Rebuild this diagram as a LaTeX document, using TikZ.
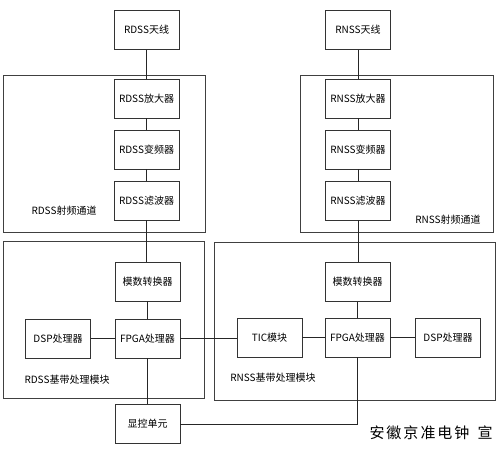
\documentclass[tikz,border=0pt]{standalone}
\usepackage{fontspec}
\setmainfont{Noto Sans CJK SC}
\newfontfamily\wmfont{Noto Sans CJK SC}
\begin{document}
\begin{tikzpicture}[x=1pt,y=-1pt,
  blk/.style={draw=black!80,line width=0.8pt,minimum width=65pt,minimum height=39pt,inner sep=0pt,font=\fontsize{10}{12}\selectfont},
  grp/.style={draw=black!75,line width=0.8pt},
  lbl/.style={font=\fontsize{10}{12}\selectfont,inner sep=0pt},
  wire/.style={draw=black!85,line width=0.8pt}]
\useasboundingbox[fill=white] (0,0) rectangle (498,452);
% group boxes
\draw[grp] (3,75) rectangle (205,232);
\draw[grp] (300,75) rectangle (493,232);
\draw[grp] (3,241) rectangle (204,398);
\draw[grp] (214,242) rectangle (495,400);
% nodes
\node[blk] (rant) at (146.5,30) {RDSS天线};
\node[blk] (ramp) at (146.5,98.5) {RDSS放大器};
\node[blk] (rmix) at (146.5,149.5) {RDSS变频器};
\node[blk] (rflt) at (146.5,200.5) {RDSS滤波器};
\node[blk] (nant) at (358,30) {RNSS天线};
\node[blk] (namp) at (358,98.5) {RNSS放大器};
\node[blk] (nmix) at (358,149.5) {RNSS变频器};
\node[blk] (nflt) at (358,200.5) {RNSS滤波器};
\node[blk] (radc) at (147.5,281.5) {模数转换器};
\node[blk] (rfpga) at (147.5,338.5) {FPGA处理器};
\node[blk] (rdsp) at (58,338.5) {DSP处理器};
\node[blk] (nadc) at (357.5,282) {模数转换器};
\node[blk] (nfpga) at (357.5,337.5) {FPGA处理器};
\node[blk] (tic) at (269.5,337.5) {TIC模块};
\node[blk] (ndsp) at (448,337.5) {DSP处理器};
\node[blk] (disp) at (147.5,424) {显控单元};
% labels
\node[lbl] (l1) at (64,211) {RDSS射频通道};
\node[lbl] (l2) at (448,220) {RNSS射频通道};
\node[lbl] (l3) at (67,380) {RDSS基带处理模块};
\node[lbl] (l4) at (273,378) {RNSS基带处理模块};
\node[inner sep=0pt,font=\wmfont\fontsize{15}{16}\selectfont] (wm) at (431,433) {安\hspace{2pt}徽\hspace{2pt}京\hspace{2pt}准\hspace{2pt}电\hspace{2pt}钟\hspace{8pt}宣};
% wires
\draw[wire] (rant) -- (ramp);
\draw[wire] (ramp) -- (rmix);
\draw[wire] (rmix) -- (rflt);
\draw[wire] (rflt.south) -- (radc.north -| rflt.south);
\draw[wire] (nant) -- (namp);
\draw[wire] (namp) -- (nmix);
\draw[wire] (nmix) -- (nflt);
\draw[wire] (nflt.south) -- (nadc.north -| nflt.south);
\draw[wire] (radc) -- (rfpga);
\draw[wire] (rdsp) -- (rfpga);
\draw[wire] (rfpga.east) -- (tic.west |- rfpga.east);
\draw[wire] (nadc) -- (nfpga);
\draw[wire] (tic) -- (nfpga);
\draw[wire] (nfpga) -- (ndsp);
\draw[wire] (rfpga) -- (disp);
\draw[wire] (nfpga.south) |- (disp.east);
\end{tikzpicture}
\end{document}
